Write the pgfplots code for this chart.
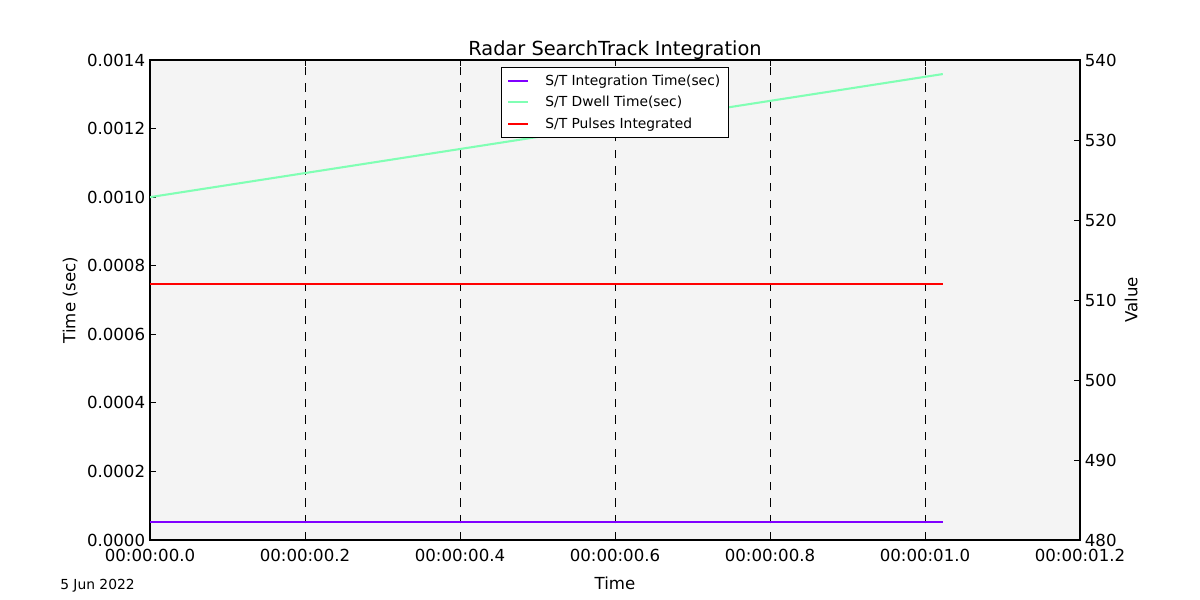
\documentclass[border=0pt]{standalone}
\usepackage{pgfplots}
\pgfplotsset{compat=1.18}
\usepackage{fontspec}
\setmainfont{DejaVu Sans}
\definecolor{stint}{HTML}{8000FF}
\definecolor{stdwell}{HTML}{80FFB4}
\definecolor{stpulse}{HTML}{FF0000}
\definecolor{bgax}{HTML}{F4F4F4}
\begin{document}
\begin{tikzpicture}[x=1in,y=1in]
\path (0,0) rectangle (12,6);
\pgfplotsset{
  base/.style={
    at={(1.5in,0.6in)}, anchor=south west,
    scale only axis, width=9.3in, height=4.8in,
    xmin=0, xmax=1.2,
    tick style={black, line width=0.6pt}, major tick length=4pt,
    tick align=inside,
    ticklabel style={font=\fontsize{12}{14}\selectfont},
    label style={font=\fontsize{12}{14}\selectfont},
    /pgf/number format/assume math mode=true,
  }
}
\begin{axis}[base,
  axis background/.style={fill=bgax},
  axis line style={black, line width=0.8pt},
  ymin=0, ymax=0.0014,
  ytick={0,0.0002,0.0004,0.0006,0.0008,0.001,0.0012,0.0014},
  scaled y ticks=false,
  yticklabel style={/pgf/number format/fixed, /pgf/number format/precision=4, /pgf/number format/fixed zerofill},
  xtick={0,0.2,0.4,0.6,0.8,1.0,1.2},
  xticklabels={00:00:00.0,00:00:00.2,00:00:00.4,00:00:00.6,00:00:00.8,00:00:01.0,00:00:01.2},
  xticklabel style={yshift=-3pt},
  xmajorgrids, major grid style={black, line width=0.5pt, dash pattern=on 6pt off 6pt},
  ytick pos=left, xtick pos=both,
  xlabel={Time}, ylabel={Time (sec)},
  xlabel style={yshift=-4pt},
  ylabel style={yshift=0pt},
  title={Radar SearchTrack Integration},
  title style={font=\fontsize{14}{16}\selectfont, yshift=-9pt},
  legend style={at={(0.5,0.985)}, anchor=north, draw=black, line width=0.6pt,
    font=\fontsize{10}{12}\selectfont, row sep=2.5pt, inner xsep=4pt, inner ysep=3pt,
    /tikz/every even column/.append style={column sep=0pt}},
  legend cell align=left,
  legend image code/.code={\draw[#1, line width=1.5pt] (0cm,0cm) -- (0.5cm,0cm);},
]
\addplot[stint, line width=1.5pt] coordinates {(0,0.0000533) (1.023,0.0000533)};
\addlegendentry{\hspace{0.35cm}S/T Integration Time(sec)}
\addplot[stdwell, line width=1.5pt] coordinates {(0,0.001000) (1.023,0.001359)};
\addlegendentry{\hspace{0.35cm}S/T Dwell Time(sec)}
\addlegendimage{stpulse, line width=1.5pt}
\addlegendentry{\hspace{0.35cm}S/T Pulses Integrated}
\end{axis}
\begin{axis}[base,
  axis y line*=right, axis x line=none,
  ymin=480, ymax=540,
  ytick={480,490,500,510,520,530,540},
  ylabel={Value},
  ylabel style={yshift=1pt},
]
\addplot[stpulse, line width=1.5pt] coordinates {(0,512) (1.023,512)};
\end{axis}
\node[anchor=base west, inner sep=0pt, font=\fontsize{10}{12}\selectfont] at (0.6,0.105) {5 Jun 2022};
\end{tikzpicture}
\end{document}
